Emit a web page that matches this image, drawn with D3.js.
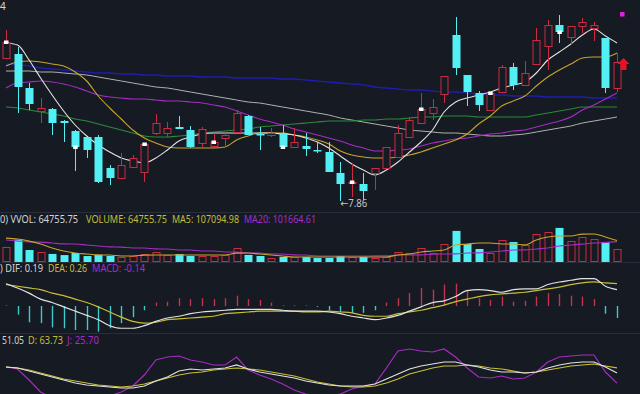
<!DOCTYPE html>
<html><head><meta charset="utf-8">
<script src="https://cdn.jsdelivr.net/npm/d3@7"></script>
<style>html,body{margin:0;padding:0;background:#161a22;overflow:hidden}svg{display:block}</style>
</head><body><svg id="c" width="640" height="394"></svg>
<script>
// ---------- data ----------
const sessions = [1,2,3,4,5,6,7,8,9,10,11,12,13,14,15,16,17,18,19,20,21,22,23,24,25,26,27,28,29,30,31,32,33,34,35,36,37,38,39,40,41,42,43,44,45,46,47,48,49,50,51,52,53,54];
const openP  = [9.29,9.33,8.99,8.76,8.78,8.66,8.56,8.50,8.50,8.19,8.09,8.20,8.15,8.54,8.54,8.60,8.57,8.44,8.41,8.49,8.55,8.71,8.53,8.52,8.54,8.40,8.41,8.37,8.35,8.14,8.04,8.03,8.14,8.19,8.30,8.50,8.64,8.74,8.93,9.52,9.12,8.94,8.77,8.95,9.20,9.02,9.23,9.41,9.62,9.50,9.61,9.59,9.49,8.99];
const highP  = [9.57,9.40,9.04,8.89,8.79,8.67,8.57,8.50,8.52,8.22,8.34,8.32,8.43,8.73,8.65,8.71,8.61,8.60,8.54,8.54,8.77,8.72,8.60,8.59,8.62,8.59,8.54,8.45,8.45,8.25,8.24,8.14,8.19,8.40,8.62,8.70,8.94,8.88,9.11,9.70,9.12,8.96,8.96,9.22,9.24,9.26,9.59,9.67,9.72,9.61,9.69,9.65,9.49,9.34];
const lowP   = [9.29,8.74,8.77,8.64,8.52,8.45,8.16,8.29,8.04,8.02,8.09,8.19,8.05,8.52,8.50,8.58,8.39,8.40,8.41,8.40,8.55,8.52,8.37,8.50,8.40,8.40,8.31,8.34,8.15,7.86,7.90,7.87,7.97,8.19,8.30,8.50,8.64,8.67,8.84,9.12,8.81,8.76,8.77,8.95,8.97,9.02,9.23,9.17,9.44,9.42,9.54,9.46,8.94,8.95];
const closeP = [9.45,9.00,8.83,8.79,8.64,8.64,8.40,8.37,8.05,8.09,8.22,8.29,8.43,8.64,8.59,8.58,8.40,8.58,8.45,8.52,8.74,8.52,8.52,8.54,8.40,8.45,8.38,8.36,8.15,8.03,8.05,7.96,8.19,8.40,8.54,8.67,8.78,8.80,9.11,9.19,8.95,8.82,8.94,9.20,9.02,9.14,9.47,9.62,9.55,9.61,9.65,9.62,8.99,9.25];
const ma5   = [9.44,9.42,9.27,9.09,8.92,8.76,8.62,8.51,8.42,8.35,8.29,8.26,8.24,8.29,8.37,8.46,8.50,8.53,8.54,8.54,8.54,8.54,8.54,8.54,8.53,8.52,8.49,8.45,8.39,8.31,8.23,8.17,8.12,8.17,8.25,8.35,8.45,8.57,8.75,8.85,8.89,8.92,8.95,8.99,9.02,9.05,9.14,9.27,9.35,9.43,9.52,9.58,9.51,9.44];
const ma10  = [9.21,9.25,9.26,9.25,9.23,9.21,9.15,9.06,8.91,8.79,8.68,8.57,8.49,8.44,8.40,8.39,8.39,8.39,8.39,8.40,8.47,8.51,8.54,8.54,8.54,8.52,8.50,8.47,8.43,8.36,8.32,8.30,8.29,8.29,8.30,8.32,8.35,8.39,8.43,8.47,8.53,8.63,8.71,8.81,8.86,8.91,9.01,9.10,9.17,9.23,9.29,9.30,9.30,9.34];
const ma20  = [8.99,9.04,9.05,9.06,9.05,9.03,9.00,8.96,8.92,8.90,8.89,8.88,8.88,8.87,8.86,8.86,8.85,8.84,8.82,8.80,8.76,8.72,8.68,8.65,8.62,8.58,8.55,8.52,8.49,8.46,8.42,8.39,8.36,8.36,8.37,8.38,8.41,8.44,8.46,8.48,8.49,8.51,8.53,8.54,8.56,8.57,8.60,8.63,8.66,8.70,8.77,8.82,8.88,8.94];
const ma30  = [8.80,8.79,8.77,8.75,8.73,8.71,8.68,8.66,8.63,8.60,8.57,8.54,8.51,8.50,8.50,8.51,8.52,8.54,8.55,8.56,8.57,8.58,8.60,8.61,8.62,8.63,8.64,8.65,8.66,8.66,8.66,8.67,8.67,8.68,8.68,8.69,8.70,8.70,8.71,8.71,8.71,8.70,8.70,8.70,8.70,8.70,8.72,8.74,8.76,8.78,8.80,8.80,8.80,8.80];
const ma60  = [9.16,9.16,9.16,9.15,9.15,9.14,9.13,9.12,9.10,9.08,9.06,9.04,9.02,9.00,8.99,8.97,8.95,8.93,8.91,8.89,8.87,8.85,8.84,8.82,8.80,8.78,8.76,8.74,8.72,8.69,8.67,8.65,8.63,8.61,8.59,8.57,8.56,8.55,8.54,8.54,8.53,8.52,8.51,8.51,8.52,8.53,8.55,8.57,8.59,8.61,8.64,8.66,8.68,8.70];
const ma120 = [9.23,9.22,9.21,9.19,9.18,9.17,9.16,9.15,9.14,9.14,9.13,9.13,9.12,9.12,9.11,9.11,9.11,9.10,9.10,9.10,9.09,9.09,9.09,9.09,9.08,9.08,9.07,9.06,9.05,9.04,9.03,9.02,9.00,8.99,8.98,8.97,8.97,8.96,8.95,8.95,8.94,8.93,8.92,8.92,8.91,8.91,8.91,8.90,8.90,8.90,8.90,8.89,8.89,8.89];
const markIdx = [0,6,12,18,24,30,36,42,48];
const lowLabel = "7.86";
const topLabel = "4";

const volume  = [74830,111260,59870,49620,40310,34580,45120,29870,35240,30150,24780,29960,40420,50180,35610,39740,30320,29580,30460,34890,69920,35280,30040,20360,25180,24650,25310,19870,20240,29750,24960,25420,19680,25230,49870,45460,70280,44720,90350,155420,89640,65120,45380,110260,99870,85430,139650,150280,170460,104820,125360,114870,100240,64755.75];
const volMa5  = [119600,114800,104500,89700,70400,55200,45300,39800,35400,34700,30200,29800,34600,35300,35100,35400,34800,34900,35200,35300,44600,45200,39700,35100,29800,25300,24900,25100,24800,25200,25000,24700,25100,25300,35200,39800,50300,54700,60200,85100,89600,95300,94800,90200,89700,85400,110300,124700,130200,129800,139600,140300,124800,107094.98];
const volMa20 = [110200,105300,100400,99600,95200,90400,89700,85300,80100,75400,74600,70300,69800,65400,64700,60300,59800,55200,54700,50300,49600,45200,44800,40300,39700,35400,34800,30300,29900,30100,29800,30200,30400,30600,34900,35300,35800,39600,40200,40700,44800,45600,50200,54800,59700,60400,65300,70200,79800,84700,89600,94800,97300,101664.61];

const dif  = [0.26,0.21,0.15,0.08,0.04,-0.01,-0.06,-0.11,-0.16,-0.23,-0.26,-0.26,-0.23,-0.18,-0.14,-0.12,-0.09,-0.07,-0.06,-0.05,-0.04,-0.04,-0.04,-0.04,-0.05,-0.06,-0.06,-0.06,-0.07,-0.09,-0.12,-0.14,-0.16,-0.14,-0.11,-0.06,-0.01,0.04,0.06,0.11,0.18,0.19,0.18,0.16,0.19,0.20,0.20,0.25,0.28,0.30,0.32,0.32,0.23,0.19];
const dea  = [0.25,0.23,0.21,0.19,0.15,0.12,0.08,0.04,-0.01,-0.07,-0.13,-0.18,-0.20,-0.19,-0.16,-0.15,-0.14,-0.13,-0.12,-0.09,-0.08,-0.07,-0.06,-0.06,-0.06,-0.06,-0.07,-0.07,-0.06,-0.07,-0.08,-0.11,-0.12,-0.12,-0.09,-0.07,-0.05,-0.02,0.01,0.05,0.08,0.11,0.13,0.14,0.15,0.16,0.18,0.20,0.22,0.25,0.27,0.28,0.27,0.26];
const macd = [0.01,-0.10,-0.19,-0.20,-0.25,-0.26,-0.28,-0.28,-0.30,-0.26,-0.20,-0.13,-0.05,0.04,0.05,0.09,0.08,0.09,0.08,0.09,0.12,0.08,0.07,0.04,0.01,0.01,0.01,-0.01,-0.05,-0.07,-0.08,-0.08,-0.05,0.04,0.09,0.15,0.21,0.19,0.25,0.26,0.19,0.09,0.07,0.11,0.05,0.06,0.11,0.15,0.14,0.12,0.11,0.08,-0.09,-0.14];

const kdjK = [66.0,63.5,56.0,48.5,41.0,33.5,26.0,21.0,18.5,16.0,13.5,13.5,18.5,31.0,41.0,56.0,61.0,58.5,61.0,63.5,71.0,61.0,53.5,48.5,43.5,38.5,31.0,26.0,21.0,18.5,18.5,18.5,23.5,36.0,48.5,61.0,68.5,73.5,78.5,78.5,71.0,66.0,58.5,53.5,53.5,51.0,53.5,63.5,71.0,76.0,78.5,78.5,66.0,51.05];
const kdjD = [66.0,63.5,58.5,51.0,43.5,36.0,31.0,26.0,21.0,18.5,16.0,18.5,23.5,31.0,38.5,46.0,51.0,53.5,58.5,61.0,63.5,61.0,58.5,53.5,48.5,43.5,36.0,28.5,23.5,18.5,16.0,16.0,18.5,26.0,36.0,48.5,56.0,63.5,68.5,68.5,71.0,68.5,63.5,61.0,56.0,51.0,53.5,58.5,63.5,68.5,71.0,73.5,68.5,63.73];
const kdjJ = [66.0,61.0,33.5,3.5,-11.5,-16.5,-21.5,-16.5,-11.5,-6.5,3.5,18.5,46.0,83.5,91.0,93.5,83.5,78.5,71.0,71.0,91.0,58.5,46.0,36.0,23.5,8.5,-1.5,-6.5,-6.5,-1.5,11.0,18.5,23.5,63.5,106.0,111.0,106.0,103.5,111.0,91.0,63.5,41.0,38.5,43.5,36.0,38.5,53.5,78.5,91.0,93.5,96.0,96.0,53.5,25.70];

// ---------- drawing ----------
const C = {bg:"#161a22", red:"#cc2a40", cyan:"#52f0f4", sep:"#2a2e3a",
  white:"#e2e2e2", gold:"#c9a42c", purple:"#a62cc4", green:"#2b8a3a", gray:"#b0b0b0", blue:"#1e1eaa",
  txtW:"#d4d4d4", txtY:"#c4bd3a", txtP:"#a42cd0", histR:"#c8324a", histC:"#3ccaca", kY:"#c8c032"};
const FONT = "'Noto Sans', 'DejaVu Sans', sans-serif";
const svg = d3.select("#c");
svg.append("rect").attr("width",640).attr("height",394).attr("fill",C.bg);

const x  = d3.scalePoint().domain(sessions).range([6,617]);
const yP = d3.scaleLinear().domain([7.77,9.87]).range([210,0]);
const yV = d3.scaleLinear().domain([0,210000]).range([262,220]);
const yM = d3.scaleLinear().domain([-0.3,0.5]).range([331.7,263.1]);
const yK = d3.scaleLinear().domain([0,100]).range([393.4,353.4]);

const defs = svg.append("defs");
function clip(id,y0,y1){ defs.append("clipPath").attr("id",id).append("rect").attr("x",0).attr("y",y0).attr("width",640).attr("height",y1-y0); return "url(#"+id+")"; }

// separators
[212.5,262.5,333.5].forEach(y=>svg.append("line").attr("x1",0).attr("x2",640).attr("y1",y).attr("y2",y).attr("stroke",C.sep).attr("stroke-width",1));

// ----- main panel -----
const gMain = svg.append("g").attr("clip-path",clip("cm",0,212));
const lineOf = (scale)=> d3.line().x((d,i)=>x(sessions[i])).y(d=>scale(d)).curve(d3.curveMonotoneX);
[[ma120,C.blue,1.4],[ma60,C.gray,1],[ma30,C.green,1.1],[ma20,C.purple,1.1],[ma10,C.gold,1.1],[ma5,C.white,1.1]].forEach(([arr,col,w])=>{
  gMain.append("path").attr("d",lineOf(yP)(arr)).attr("fill","none").attr("stroke",col).attr("stroke-width",w);
});

const idx = sessions.map((s,i)=>i);
const up = i => closeP[i] >= openP[i];
const bw = 7;
idx.forEach(i=>{
  const cx = Math.round(x(sessions[i]));
  const top = yP(Math.max(openP[i],closeP[i])), bot = yP(Math.min(openP[i],closeP[i]));
  const col = up(i) ? C.red : C.cyan;
  if (up(i)) {
    if (yP(highP[i]) < top-0.5) gMain.append("line").attr("x1",cx+0.5).attr("x2",cx+0.5).attr("y1",yP(highP[i])).attr("y2",top).attr("stroke",col);
    if (yP(lowP[i]) > bot+0.5) gMain.append("line").attr("x1",cx+0.5).attr("x2",cx+0.5).attr("y1",bot).attr("y2",yP(lowP[i])).attr("stroke",col);
    gMain.append("rect").attr("x",cx-3.5+0.5).attr("y",Math.round(top)+0.5).attr("width",bw).attr("height",Math.max(1,Math.round(bot-top)))
      .attr("fill",C.bg).attr("stroke",col).attr("stroke-width",1);
  } else {
    gMain.append("line").attr("x1",cx+0.5).attr("x2",cx+0.5).attr("y1",yP(highP[i])).attr("y2",yP(lowP[i])).attr("stroke",col);
    gMain.append("rect").attr("x",cx-3.5).attr("y",top).attr("width",bw+1).attr("height",Math.max(1.5,bot-top)).attr("fill",col);
  }
});
// white close marks
markIdx.forEach(i=>{
  const cx = x(sessions[i]);
  gMain.append("rect").attr("x",cx-2).attr("y",yP(closeP[i])-1.5).attr("width",4.5).attr("height",3.5).attr("fill","#ffffff");
});
// low label
const iLow = lowP.indexOf(d3.min(lowP));
gMain.append("text").attr("x",x(sessions[iLow])).attr("y",yP(lowP[iLow])+5.5).attr("fill","#c8c8c8")
  .attr("font-family",FONT).attr("font-size",10).attr("textLength",27).attr("lengthAdjust","spacingAndGlyphs").text("\u2190"+lowLabel);
// top-left price label fragment
svg.append("text").attr("x",0).attr("y",10).attr("fill","#d8d8d8")
  .attr("font-family",FONT).attr("font-size",10).text(topLabel);
// signal markers at the right
const lastX = x(sessions[sessions.length-1]);
svg.append("rect").attr("x",lastX+3).attr("y",12).attr("width",4.5).attr("height",4.5).attr("fill","#e020e0");
const ay = yP(closeP[closeP.length-1]) + 1;
svg.append("path").attr("d",`M${lastX+6.5},${ay-5} L${lastX+12.5},${ay+1} L${lastX+9.5},${ay+1} L${lastX+9.5},${ay+7} L${lastX+3.5},${ay+7} L${lastX+3.5},${ay+1} L${lastX+0.5},${ay+1} Z`).attr("fill","#ee1020");

// ----- volume panel -----
const gVol = svg.append("g").attr("clip-path",clip("cv",213,262.5));
idx.forEach(i=>{
  const cx = Math.round(x(sessions[i]));
  const col = up(i) ? C.red : C.cyan;
  const t = yV(volume[i]);
  if (up(i)) gVol.append("rect").attr("x",cx-3.5+0.5).attr("y",Math.round(t)+0.5).attr("width",bw).attr("height",Math.max(1,261-Math.round(t))).attr("fill","none").attr("stroke",col);
  else gVol.append("rect").attr("x",cx-3.5).attr("y",t).attr("width",bw+1).attr("height",yV(0)-t).attr("fill",col);
});
[[volMa20,C.purple],[volMa5,C.gold]].forEach(([arr,col])=>{
  gVol.append("path").attr("d",lineOf(yV)(arr)).attr("fill","none").attr("stroke",col).attr("stroke-width",1.1);
});

// ----- MACD panel -----
const gM = svg.append("g").attr("clip-path",clip("cmacd",263,333));
idx.forEach(i=>{
  const cx = Math.round(x(sessions[i]))+0.5;
  gM.append("line").attr("x1",cx).attr("x2",cx).attr("y1",yM(0)).attr("y2",yM(macd[i]))
    .attr("stroke",macd[i]>=0?C.histR:C.histC).attr("stroke-width",1.4);
});
[[dea,C.kY],[dif,C.white]].forEach(([arr,col])=>{
  gM.append("path").attr("d",lineOf(yM)(arr)).attr("fill","none").attr("stroke",col).attr("stroke-width",1.2);
});

// ----- KDJ panel -----
const gK = svg.append("g").attr("clip-path",clip("ckdj",334,394));
[[kdjJ,C.purple],[kdjD,C.kY],[kdjK,C.white]].forEach(([arr,col])=>{
  gK.append("path").attr("d",d3.line().x((d,i)=>x(sessions[i])).y(d=>yK(d))(arr)).attr("fill","none").attr("stroke",col).attr("stroke-width",1.2);
});

// ----- titles -----
const last = volume.length-1;
function label(txt,x0,len,y,col){
  svg.append("text").attr("x",x0).attr("y",y).attr("fill",col).attr("font-family",FONT).attr("font-size",10)
    .attr("textLength",len).attr("lengthAdjust","spacingAndGlyphs").text(txt);
}
label("0) VVOL: "+volume[last].toFixed(2),0,78,223,C.txtW);
label("VOLUME: "+volume[last].toFixed(2),86,81,223,C.txtY);
label("MA5: "+volMa5[last].toFixed(2),172,67,223,C.txtY);
label("MA20: "+volMa20[last].toFixed(2),244,72,223,C.txtP);
label(") DIF: "+dif[last].toFixed(2),0,43,272,C.txtW);
label("DEA: "+dea[last].toFixed(2),48,39,272,C.txtY);
label("MACD: "+macd[last].toFixed(2),92,53,272,C.txtP);
label(kdjK[last].toFixed(2),2,22,344,C.txtW);
label("D: "+kdjD[last].toFixed(2),28,35,344,C.txtY);
label("J: "+kdjJ[last].toFixed(2),67,32,344,C.txtP);
</script>
</body></html>
